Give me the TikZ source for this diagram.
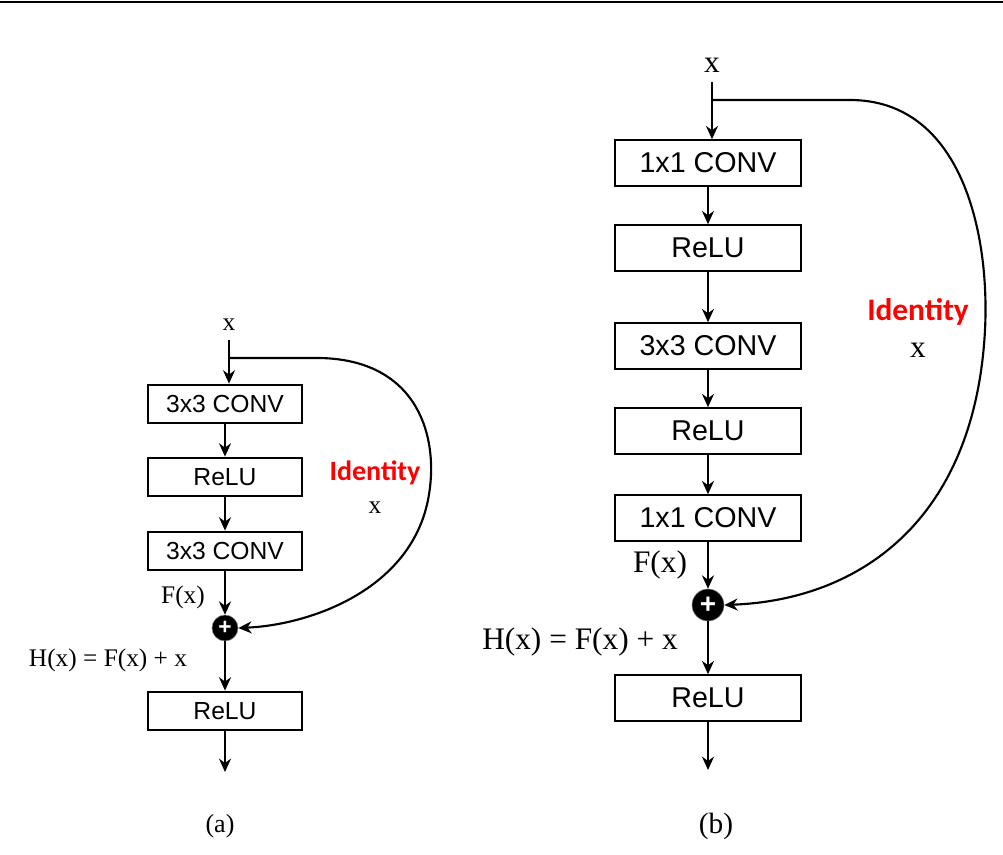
\documentclass[tikz,border=0pt]{standalone}
\usepackage{fontspec}
\setmainfont{Liberation Serif}
\newfontfamily\boxfont{Liberation Sans}
\newfontfamily\idfont{Carlito}
\usetikzlibrary{arrows.meta}
\begin{document}
\begin{tikzpicture}[x=0.75pt,y=-0.75pt,
 bx/.style={draw,line width=1.6pt,minimum width=115.5pt,minimum height=29pt,inner sep=0pt,font=\boxfont\fontsize{18.5}{18.5}\selectfont},
 bxb/.style={draw,line width=1.6pt,minimum width=139pt,minimum height=34pt,inner sep=0pt,font=\boxfont\fontsize{21.5}{21.5}\selectfont},
 ar/.style={line width=1.6pt,-{Stealth[length=10pt,width=9pt]}},
 pl/.style={circle,fill=black,draw=gray,text=white,inner sep=0pt,font=\boxfont\bfseries},
 lb/.style={font=\fontsize{19}{19}\selectfont},
 lbb/.style={font=\fontsize{23.5}{23.5}\selectfont},
 idl/.style={text=red,font=\idfont\bfseries\fontsize{21}{21}\selectfont}]
\useasboundingbox (0,0) rectangle (1003,855);
\draw[line width=1pt] (0,2) -- (1003,2);
% left
\node[lb] (xa) at (229,325) {x};
\node[bx] (a1) at (225,404) {3x3 CONV};
\node[bx] (a2) at (225,477) {ReLU};
\node[bx] (a3) at (225,551) {3x3 CONV};
\node[pl,minimum size=19.5pt,font=\boxfont\bfseries\fontsize{17}{17}\selectfont] (ap) at (225,628) {+};
\node[bx] (a4) at (225,711) {ReLU};
\coordinate (ae) at (225,772);
\coordinate (as) at (229,358);
\node[lb] at (183,597) {F(x)};
\node[lb] at (108,660) {H(x) = F(x) + x};
\node[idl] at (375,473) {Identity};
\node[lb] at (375,508) {x};
\node[font=\fontsize{19.5}{19.5}\selectfont] at (220,826) {(a)};
\draw[ar] (229,340) -- (a1.north -| as);
\draw[ar] (a1) -- (a2);
\draw[ar] (a2) -- (a3);
\draw[ar] (a3) -- (ap);
\draw[ar] (ap) -- (a4);
\draw[ar] (a4) -- (ae);
\draw[ar] (as) -- (320,358) .. controls (420,360) and (440,440) .. (428,500) .. controls (410,590) and (310,625) .. (ap.east);
% right
\node[lbb] (xb) at (712,65) {x};
\node[bxb] (b1) at (708,163) {1x1 CONV};
\node[bxb] (b2) at (708,248) {ReLU};
\node[bxb] (b3) at (708,346) {3x3 CONV};
\node[bxb] (b4) at (708,431) {ReLU};
\node[bxb] (b5) at (708,518) {1x1 CONV};
\node[pl,minimum size=24pt,font=\boxfont\bfseries\fontsize{21}{21}\selectfont] (bp) at (708,605) {+};
\node[bxb] (b6) at (708,698) {ReLU};
\coordinate (be) at (708,770);
\coordinate (bs) at (712,100);
\node[lbb] at (660,565) {F(x)};
\node[lbb] at (580,642) {H(x) = F(x) + x};
\node[idl,font=\idfont\bfseries\fontsize{23.5}{23.5}\selectfont] at (918,312) {Identity};
\node[lbb] at (918,350) {x};
\node[font=\fontsize{22}{22}\selectfont] at (716,826) {(b)};
\draw[ar] (712,82) -- (b1.north -| bs);
\draw[ar] (b1) -- (b2);
\draw[ar] (b2) -- (b3);
\draw[ar] (b3) -- (b4);
\draw[ar] (b4) -- (b5);
\draw[ar] (b5) -- (bp);
\draw[ar] (bp) -- (b6);
\draw[ar] (b6) -- (be);
\draw[ar] (bs) -- (850,100) .. controls (960,100) and (990,230) .. (985,330) .. controls (975,520) and (860,600) .. (bp.east);
\end{tikzpicture}
\end{document}
